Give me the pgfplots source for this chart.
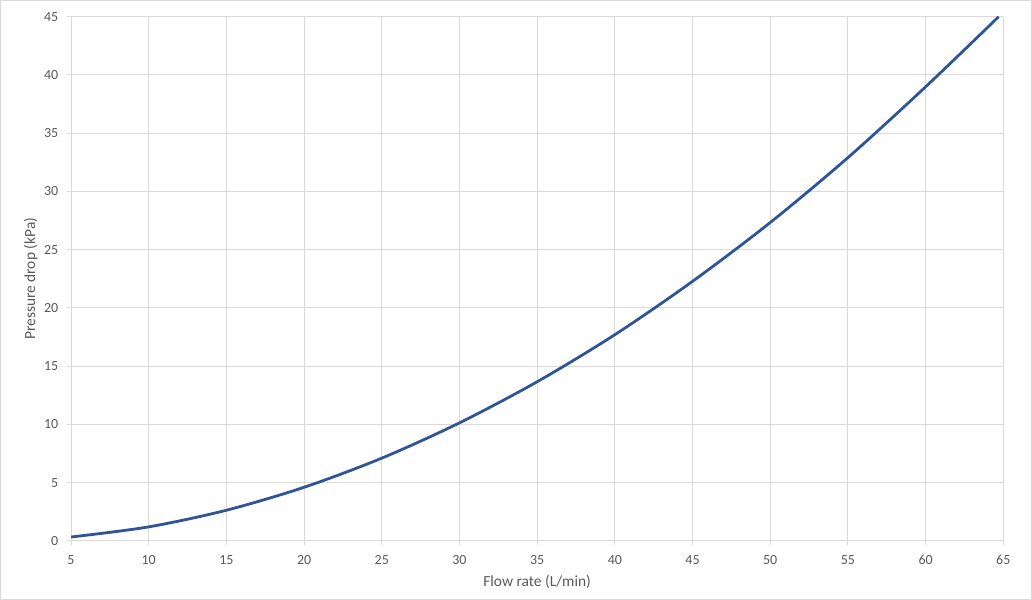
\documentclass[border=0pt]{standalone}
\usepackage{fontspec}
\setmainfont{Carlito}
\usepackage{pgfplots}
\pgfplotsset{compat=1.18}
\definecolor{curve}{HTML}{2F5597}
\definecolor{gridc}{HTML}{D9D9D9}
\definecolor{txt}{HTML}{595959}

\begin{document}
\begin{tikzpicture}
\begin{axis}[
    scale only axis, width=932bp, height=524bp,
    xmin=5, xmax=65, ymin=0, ymax=45,
    xtick={5,10,...,65}, ytick={0,5,...,45},
    axis lines*=left,
    grid=major, major grid style={gridc, line width=1bp},
    axis line style={gridc, line width=1bp},
    tick style={gridc, line width=1bp},
    tick align=outside, major tick length=4.5bp,
    /pgf/number format/assume math mode=true,
    ticklabel style={font=\fontsize{14}{16}\selectfont, text=txt, inner sep=0pt},
    xticklabel style={anchor=north, yshift=-9.5bp},
    yticklabel style={anchor=east, xshift=-8bp},
    label style={font=\fontsize{15.5}{18}\selectfont, text=txt},
    xlabel={Flow rate (L/min)}, ylabel={Pressure drop (kPa)},
    xlabel style={at={(axis description cs:0.5,-0.0878)}, anchor=base},
    ylabel style={at={(axis description cs:-0.0386,0.5)}, anchor=base},
]
\addplot[curve, line width=2.8bp, smooth] coordinates {
(5,0.33) (10,1.2) (15,2.63) (20,4.6) (25,7.1) (30,10.13) (35,13.66)
(40,17.7) (45,22.28) (50,27.33) (55,32.9) (60,38.98) (64.7,45)
};
\end{axis}
\draw[gridc, line width=1bp] ([xshift=-70.5bp, yshift=-58.5bp]current axis.south west)
    rectangle ([xshift=28.2bp, yshift=16.2bp]current axis.north east);
\end{tikzpicture}
\end{document}
